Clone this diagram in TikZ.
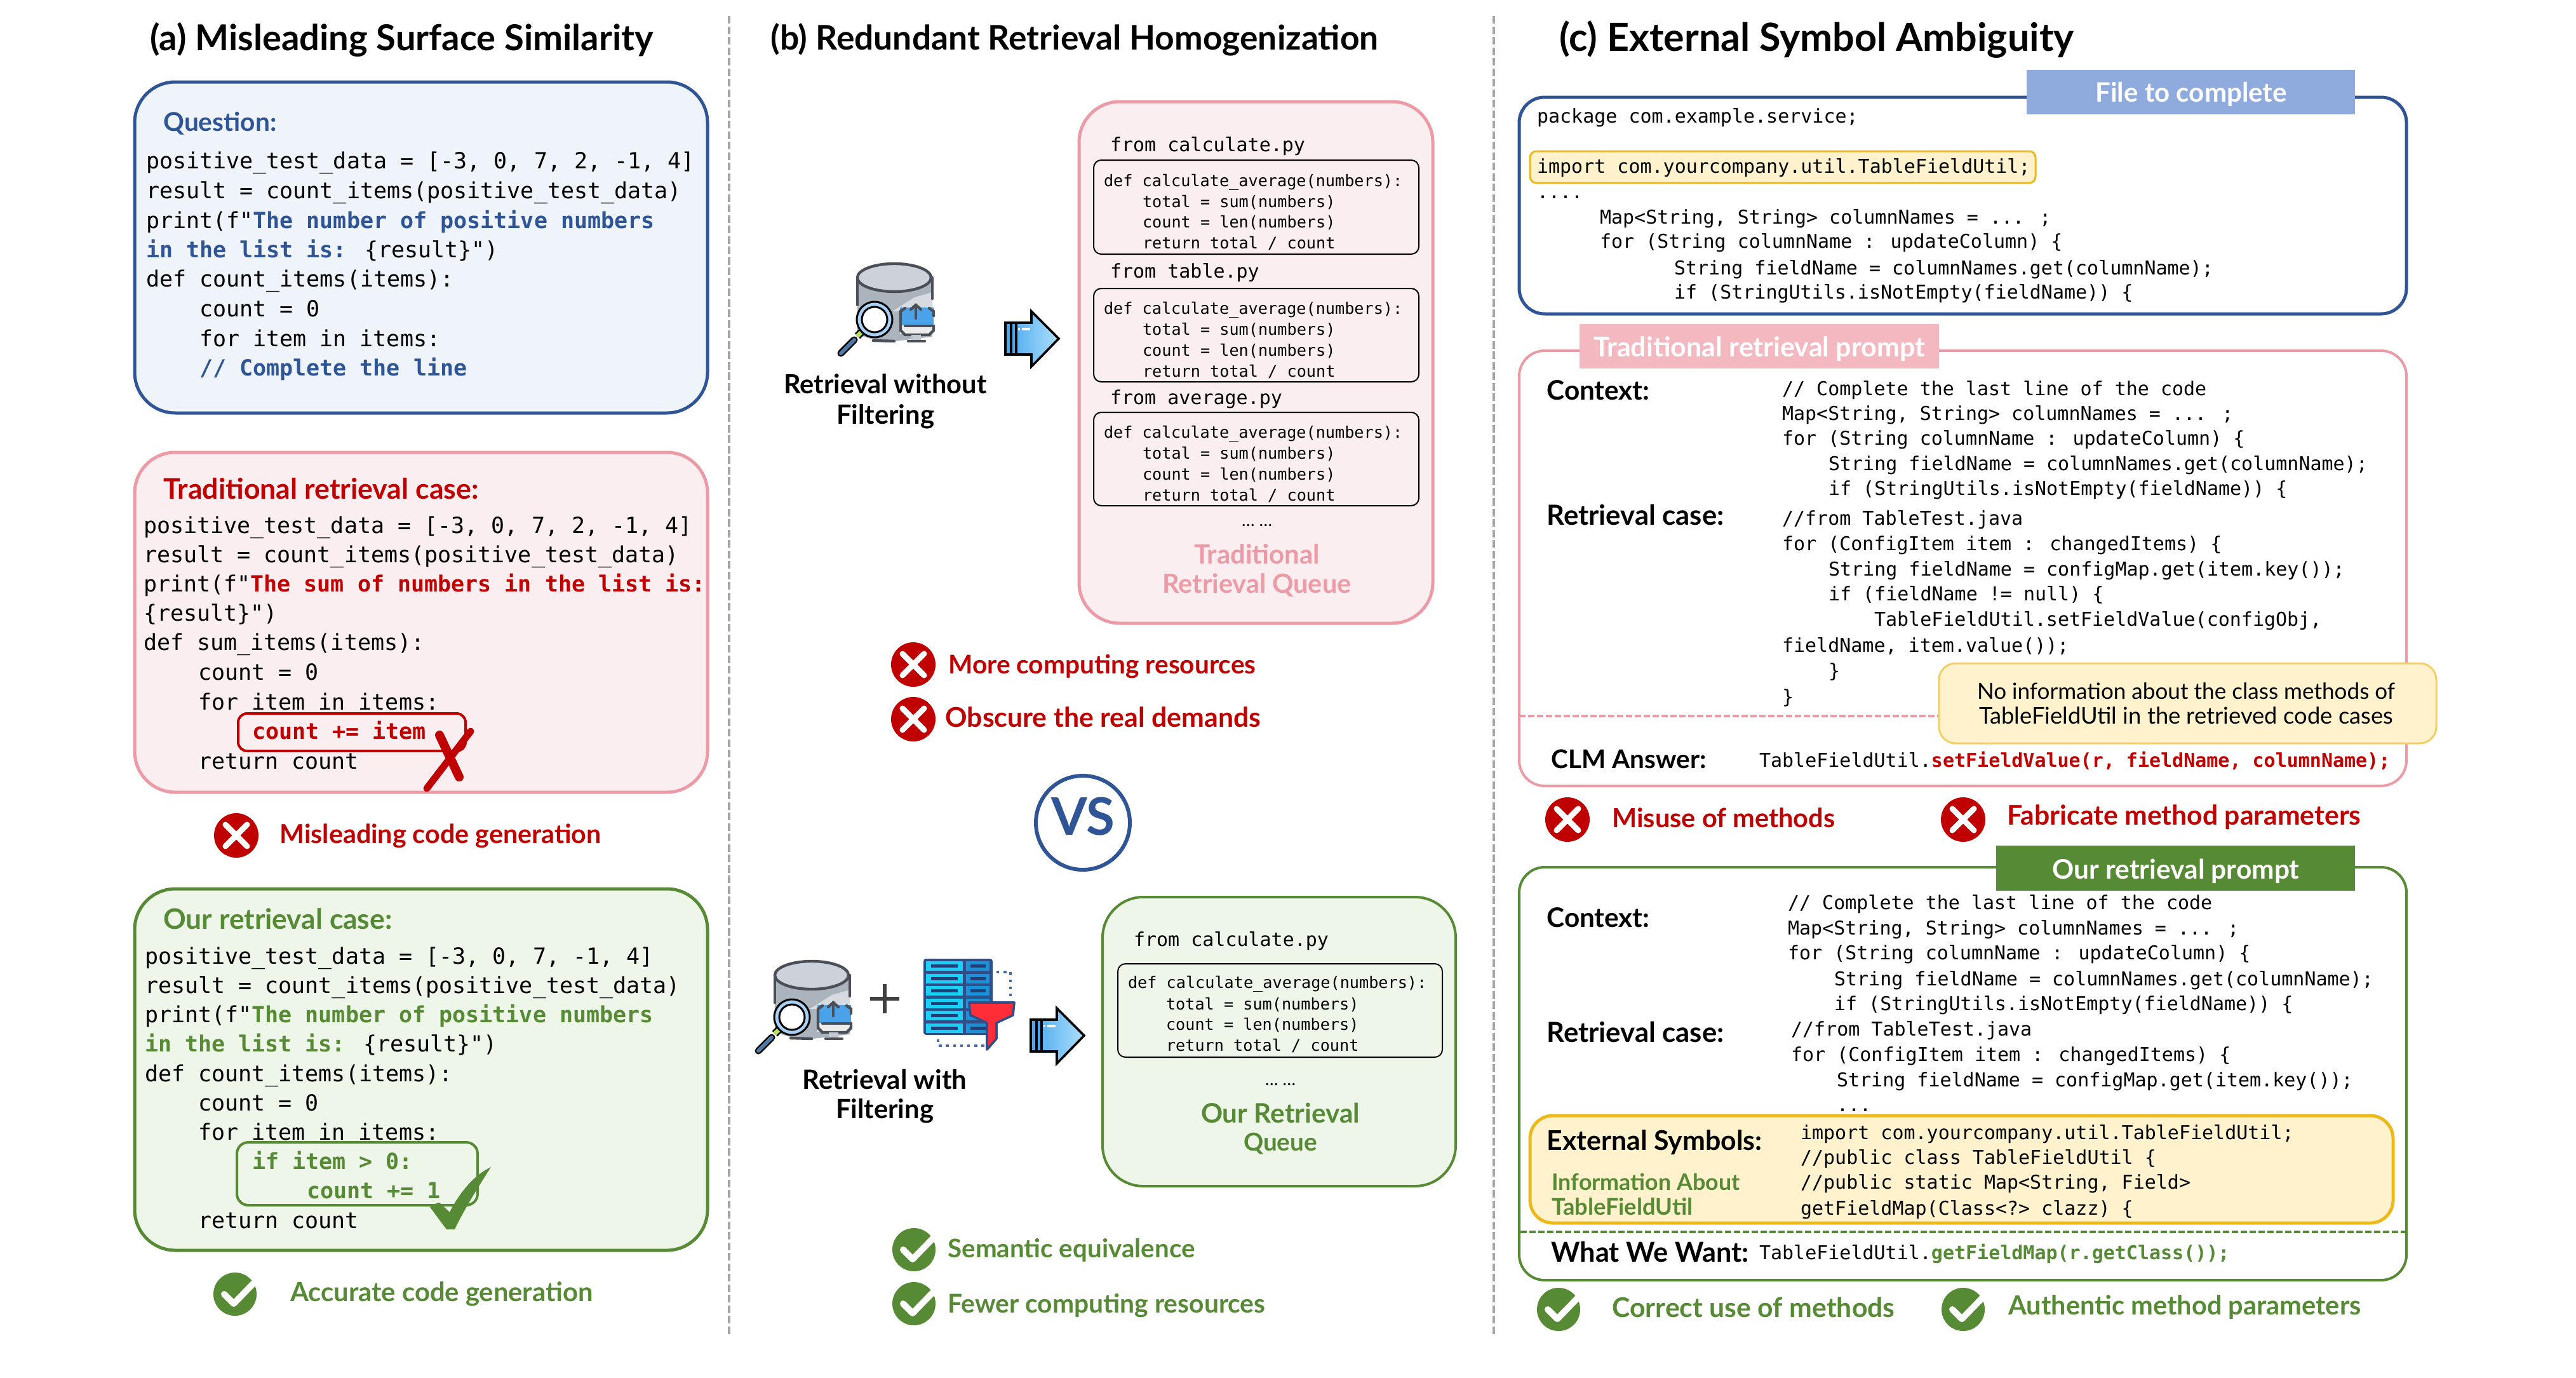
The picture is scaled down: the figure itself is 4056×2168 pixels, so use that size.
\documentclass[tikz,border=0pt]{standalone}
\usepackage{fontspec}
\usepackage{graphicx}
\setmainfont{Lato}
\newfontfamily\code{DejaVu Sans Mono}
\newlength\pxu \setlength\pxu{0.5pt}
\definecolor{cblue}{HTML}{2F5597}
\definecolor{cred}{HTML}{C00000}
\definecolor{cgreen}{HTML}{568A34}
\definecolor{cpink}{HTML}{EB9AA6}
\definecolor{fblue}{HTML}{EFF4FB}
\definecolor{fpink}{HTML}{FBEEF0}
\definecolor{fgreen}{HTML}{EEF6E9}
\definecolor{fyellow}{HTML}{FFF2CC}
\definecolor{syellow}{HTML}{EDB91A}
\definecolor{dbline}{HTML}{4B4F58}
\definecolor{greyd}{HTML}{A6A6A6}
\definecolor{dbbody}{HTML}{ABB3BC}
\definecolor{dbband}{HTML}{D7DBE0}
\definecolor{dbtop}{HTML}{CDD2DA}
\definecolor{scrblue}{HTML}{4AA3E8}
\definecolor{scrwhite}{HTML}{ECECEC}
\definecolor{standc}{HTML}{C3C9D1}
\definecolor{handle}{HTML}{4F7AA8}
\definecolor{lime}{HTML}{B5E05A}
\definecolor{lens}{HTML}{A8D0F5}
\definecolor{arrowa}{HTML}{45A6EE}
\definecolor{arrowb}{HTML}{AEDFFC}
\definecolor{arrowc}{HTML}{4AA8F0}
\definecolor{plusc}{HTML}{404040}
\definecolor{tabnavy}{HTML}{2E4F8A}
\definecolor{cellcyan}{HTML}{1BD0F5}
\definecolor{cellblue}{HTML}{1A92D8}
\definecolor{cellbar}{HTML}{20407A}
\definecolor{dotc}{HTML}{4A6AA5}
\definecolor{funnel}{HTML}{FF2D37}
\definecolor{tabblue}{HTML}{8FAADC}
\definecolor{tabpink}{HTML}{F4B8C1}
\definecolor{notee}{HTML}{F2CF66}
\tikzset{
  bigA/.style={font=\code\fontsize{17.5}{20}\selectfont},
  bigB/.style={font=\code\fontsize{15}{18}\selectfont},
  smallB/.style={font=\code\fontsize{12.6}{15}\selectfont},
  codeline/.style={anchor=base west,inner sep=0pt,outer sep=0pt},
  bluebox/.style={draw=cblue,fill=fblue,line width=2.5pt,rounded corners=32pt},
  pinkbox/.style={draw=cpink,fill=fpink,line width=2.5pt,rounded corners=32pt},
  greenbox/.style={draw=cgreen,fill=fgreen,line width=2.5pt,rounded corners=32pt},
  cblueframe/.style={draw=cblue,fill=white,line width=2.5pt,rounded corners=20pt},
  cpinkframe/.style={draw=cpink,fill=white,line width=2pt,rounded corners=20pt},
  cgreenframe/.style={draw=cgreen,fill=white,line width=2pt,rounded corners=20pt},
  innerbox/.style={draw=black,line width=1pt,rounded corners=6pt},
  sep/.style={draw=greyd,line width=2pt,dash pattern=on 6pt off 2.25pt},
  dbs/.style={draw=dbline,line width=2.2pt,line cap=round},
  fatarrow/.style={draw=black,line width=1.8pt,line join=miter},
}
\usetikzlibrary{calc}
\newcommand\cl[3]{\node[codeline] at (#1,#2) {#3};}
\newcommand\lbl[5]{\node[anchor=west,inner sep=0pt,text=#1] at (#3,#4) {\resizebox{#2\pxu}{!}{\bfseries\strut #5}};}
\newcommand\clbl[5]{\node[anchor=center,inner sep=0pt,text=#1] at (#3,#4) {\resizebox{#2\pxu}{!}{\bfseries\strut #5}};}
\newcommand\crossicon[2]{%
  \fill[cred] (#1,#2) circle[radius=35];
  \draw[white,line width=4.5pt,line cap=round] ($(#1,#2)+(-17,-17)$) -- ($(#1,#2)+(17,17)$);
  \draw[white,line width=4.5pt,line cap=round] ($(#1,#2)+(-17,17)$) -- ($(#1,#2)+(17,-17)$);}
\newcommand\checkicon[2]{%
  \fill[cgreen] (#1,#2) circle[radius=34];
  \draw[white,line width=5pt,line cap=round,line join=round] ($(#1,#2)+(-17,0)$) -- ($(#1,#2)+(-2,15)$) -- ($(#1,#2)+(31,-19)$);}
\newcommand\dbicon[2]{%
\begin{scope}[shift={(#1,#2)}]
  \fill[dbbody] (1350,437) -- (1350,525) .. controls (1370,537) and (1400,537) .. (1410,537) -- (1468,530) -- (1468,437) -- cycle;
  \fill[dbband] (1440,468) -- (1468,460) -- (1468,490) -- (1405,490) -- cycle;
  \draw[dbs] (1350,437) -- (1350,480);
  \draw[dbs] (1468,437) -- (1468,470);
  \draw[dbs,fill=dbtop] (1408,437) ellipse [x radius=58,y radius=22];
  \draw[dbs] (1375,536) -- (1408,537);
  \fill[scrblue] (1417,484) rectangle (1470,512);
  \fill[scrwhite] (1417,512) rectangle (1470,526);
  \draw[dbs] (1418,512) -- (1418,497) -- (1418,490) -- (1425,485);
  \draw[dbs] (1463,485) -- (1470,490) -- (1470,497);
  \draw[dbs] (1425,513) -- (1470,513);
  \draw[dbs] (1418,512) -- (1418,520) -- (1425,527) -- (1463,527) -- (1470,520) -- (1470,513);
  \draw[dbs] (1442,501) -- (1442,480);
  \draw[dbs] (1434,487) -- (1442,480) -- (1450,487);
  \fill[standc] (1435,527) rectangle (1450,535);
  \draw[dbs] (1430,537) -- (1456,537);
  \draw[black,line width=5.5pt,line cap=round] (1345,535) -- (1324,556);
  \draw[handle,line width=3pt,line cap=round] (1345,535) -- (1324,556);
  \draw[black,line width=6pt] (1358,521) -- (1350,529);
  \draw[lime,line width=3.5pt] (1358,521) -- (1350,529);
  \draw[black,fill=lens,line width=1.5pt] (1377,503) circle[radius=28];
  \draw[black,fill=white,line width=1.5pt] (1377,503) circle[radius=20];
\end{scope}}
\newcommand\arrowicon[2]{%
\begin{scope}[shift={(#1,#2)}]
  \shade[left color=arrowa,right color=arrowb] (1583,508) -- (1624,508) -- (1624,490) -- (1667,533) -- (1624,577) -- (1624,558) -- (1583,558) -- cycle;
  \fill[arrowc] (1583,508) rectangle (1600,558);
  \fill[white] (1603,516) rectangle (1606,520);
  \fill[white] (1609,516) rectangle (1622,520);
  \draw[black,line width=1.6pt] (1592,508) -- (1592,558);
  \draw[black,line width=1.6pt] (1600,508) -- (1600,558);
  \draw[fatarrow] (1583,508) -- (1624,508) -- (1624,490) -- (1667,533) -- (1624,577) -- (1624,558) -- (1583,558) -- cycle;
\end{scope}}
\begin{document}
\begin{tikzpicture}[x=0.5pt,y=-0.5pt]
\useasboundingbox (0,0) rectangle (4056,2168);
% separators
\draw[sep] (1148,25) -- (1148,2100);
\draw[sep] (2352,25) -- (2352,2100);
% titles
\lbl{black}{792}{236}{66}{(a) Misleading Surface Similarity}
\lbl{black}{957}{1213}{66}{(b) Redundant Retrieval Homogenization}
\lbl{black}{810}{2455}{66}{(c) External Symbol Ambiguity}
%%% PANEL A
\draw[bluebox] (212,129) rectangle (1114,650);
\lbl{cblue}{178}{257}{197}{Question:}
\begin{scope}[every node/.append style={bigA}]
\cl{230}{265}{positive\_test\_data = [-3, 0, 7, 2, -1, 4]}
\cl{230}{312}{result = count\_items(positive\_test\_data)}
\cl{230}{359}{print(f"\textcolor{cblue}{\bfseries The number of positive numbers}}
\cl{230}{405}{\textcolor{cblue}{\bfseries in the list is:} \{result\}")}
\cl{230}{451}{def count\_items(items):}
\cl{314}{498}{count = 0}
\cl{314}{545}{for item in items:}
\cl{314}{591}{\textcolor{cblue}{\bfseries // Complete the line}}
\end{scope}
\draw[pinkbox] (212,712) rectangle (1114,1247);
\lbl{cred}{496}{257}{775}{Traditional retrieval case:}
\begin{scope}[every node/.append style={bigA}]
\cl{226}{839}{positive\_test\_data = [-3, 0, 7, 2, -1, 4]}
\cl{226}{885}{result = count\_items(positive\_test\_data)}
\cl{226}{931}{print(f"\textcolor{cred}{\bfseries The sum of numbers in the list is:}}
\cl{226}{977}{\{result\}")}
\cl{226}{1023}{def sum\_items(items):}
\cl{312}{1070}{count = 0}
\cl{312}{1117}{for item in items:}
\cl{397}{1163}{\textcolor{cred}{\bfseries count += item}}
\cl{312}{1210}{return count}
\end{scope}
\draw[cred,line width=2pt,rounded corners=7pt] (375,1123) rectangle (733,1182);
\draw[cred,line width=7pt,line cap=round] (692,1157) -- (723,1223);
\draw[cred,line width=5.5pt,line cap=round] (741,1151) -- (672,1241);
\crossicon{372}{1315}
\lbl{cred}{506}{440}{1318}{Misleading code generation}
\draw[greenbox] (212,1399) rectangle (1114,1968);
\lbl{cgreen}{360}{257}{1452}{Our retrieval case:}
\begin{scope}[every node/.append style={bigA}]
\cl{228}{1517}{positive\_test\_data = [-3, 0, 7, -1, 4]}
\cl{228}{1563}{result = count\_items(positive\_test\_data)}
\cl{228}{1609}{print(f"\textcolor{cgreen}{\bfseries The number of positive numbers}}
\cl{228}{1655}{\textcolor{cgreen}{\bfseries in the list is:} \{result\}")}
\cl{228}{1702}{def count\_items(items):}
\cl{312}{1748}{count = 0}
\cl{312}{1794}{for item in items:}
\cl{397}{1840}{\textcolor{cgreen}{\bfseries if item > 0:}}
\cl{483}{1886}{\textcolor{cgreen}{\bfseries count += 1}}
\cl{312}{1933}{return count}
\end{scope}
\draw[cgreen,line width=2pt,rounded corners=9pt] (373,1798) rectangle (752,1897);
\fill[cgreen] (677,1900) .. controls (683,1896) and (688,1893) .. (692,1893) -- (708,1908) .. controls (722,1880) and (745,1850) .. (773,1837) .. controls (755,1865) and (730,1905) .. (716,1935) -- (703,1935) -- cycle;
\checkicon{370}{2037}
\lbl{cgreen}{476}{457}{2038}{Accurate code generation}
%%% PANEL B
\dbicon{0}{0}
\arrowicon{0}{0}
\clbl{black}{319}{1394}{610}{Retrieval without}
\clbl{black}{154}{1394}{657}{Filtering}
\draw[pinkbox] (1699,160) rectangle (2256,981);
\begin{scope}[every node/.append style={bigB}]
\cl{1748}{238}{from calculate.py}
\cl{1748}{437}{from table.py}
\cl{1748}{636}{from average.py}
\end{scope}
\draw[innerbox] (1722,252) rectangle (2234,400);
\draw[innerbox] (1722,454) rectangle (2234,601);
\draw[innerbox] (1722,649) rectangle (2234,796);
\begin{scope}[every node/.append style={smallB}]
\cl{1738}{293}{def calculate\_average(numbers):}
\cl{1799}{326}{total = sum(numbers)}
\cl{1799}{358}{count = len(numbers)}
\cl{1799}{391}{return total / count}
\cl{1738}{494}{def calculate\_average(numbers):}
\cl{1799}{527}{total = sum(numbers)}
\cl{1799}{560}{count = len(numbers)}
\cl{1799}{593}{return total / count}
\cl{1738}{689}{def calculate\_average(numbers):}
\cl{1799}{722}{total = sum(numbers)}
\cl{1799}{755}{count = len(numbers)}
\cl{1799}{788}{return total / count}
\end{scope}
\clbl{black}{48}{1979}{822}{\mdseries … …}
\clbl{cpink}{198}{1979}{877}{Traditional}
\clbl{cpink}{297}{1979}{924}{Retrieval Queue}
\crossicon{1438}{1046}
\lbl{cred}{484}{1493}{1051}{More computing resources}
\crossicon{1438}{1132}
\lbl{cred}{497}{1488}{1134}{Obscure the real demands}
% VS
\draw[cblue,line width=3pt,fill=white] (1705,1295) circle[radius=74];
\clbl{cblue}{100}{1705}{1295}{VS}
% lower
\dbicon{-130}{1098}
\arrowicon{40}{1097}
\draw[plusc,line width=3.2pt] (1370,1572) -- (1416,1572);
\draw[plusc,line width=3.2pt] (1393,1549) -- (1393,1595);
% filter table icon
\fill[tabnavy,rounded corners=2pt] (1454,1509) rectangle (1563,1629);
\foreach \r in {0,1,2,3,4,5}{
  \fill[cellcyan] (1458,1513+\r*19.5) rectangle (1516,1528+\r*19.5);
  \fill[cellblue] (1521,1513+\r*19.5) rectangle (1558,1528+\r*19.5);
  \fill[cellbar] (1466,1518+\r*19.5) rectangle (1508,1523+\r*19.5);
  \fill[cellbar] (1528,1518+\r*19.5) rectangle (1552,1523+\r*19.5);
}
\draw[dotc,line width=2.2pt,dash pattern=on 2.2pt off 3.4pt] (1569,1530) -- (1591,1530) -- (1591,1572);
\draw[dotc,line width=2.2pt,dash pattern=on 2.2pt off 3.4pt] (1477,1636) -- (1477,1646) -- (1550,1646);
\draw[tabnavy,fill=funnel,line width=1.8pt,line join=round] (1526,1578) -- (1597,1578) -- (1595,1598) -- (1569,1610) -- (1569,1635) -- (1554,1652) -- (1554,1610) -- (1528,1598) -- cycle;
\clbl{black}{259}{1393}{1704}{Retrieval with}
\clbl{black}{154}{1393}{1750}{Filtering}
\draw[greenbox,line width=2pt] (1736,1412) rectangle (2292,1867);
\begin{scope}[every node/.append style={bigB}]
\cl{1785}{1489}{from calculate.py}
\end{scope}
\draw[innerbox] (1760,1517) rectangle (2271,1664);
\begin{scope}[every node/.append style={smallB}]
\cl{1776}{1555}{def calculate\_average(numbers):}
\cl{1836}{1589}{total = sum(numbers)}
\cl{1836}{1621}{count = len(numbers)}
\cl{1836}{1654}{return total / count}
\end{scope}
\clbl{black}{48}{2016}{1702}{\mdseries … …}
\clbl{cgreen}{250}{2016}{1757}{Our Retrieval}
\clbl{cgreen}{116}{2016}{1802}{Queue}
\checkicon{1439}{1967}
\lbl{cgreen}{389}{1492}{1970}{Semantic equivalence}
\checkicon{1439}{2052}
\lbl{cgreen}{500}{1492}{2057}{Fewer computing resources}
%%% PANEL C
\draw[cblueframe] (2392,153) rectangle (3789,494);
\fill[tabblue] (3191,110) rectangle (3708,180);
\clbl{white}{301}{3450}{150}{File to complete}
\begin{scope}[every node/.append style={bigB}]
\draw[syellow,fill=fyellow,line width=1.5pt,rounded corners=5pt] (2409,238) rectangle (3205,288);
\cl{2420}{193}{package com.example.service;}
\cl{2420}{272}{import com.yourcompany.util.TableFieldUtil;}
\cl{2420}{312}{....}
\cl{2519}{352}{Map<String, String> columnNames = ... ;}
\cl{2519}{390}{for (String columnName : updateColumn) \{}
\cl{2636}{432}{String fieldName = columnNames.get(columnName);}
\cl{2636}{470}{if (StringUtils.isNotEmpty(fieldName)) \{}
\end{scope}
% traditional prompt
\draw[cpinkframe] (2392,552) rectangle (3789,1237);
\fill[tabpink] (2487,510) rectangle (3053,580);
\clbl{white}{522}{2770}{551}{Traditional retrieval prompt}
\lbl{black}{162}{2435}{619}{Context:}
\lbl{black}{279}{2435}{816}{Retrieval case:}
\begin{scope}[every node/.append style={bigB}]
\cl{2806}{622}{// Complete the last line of the code}
\cl{2806}{661}{Map<String, String> columnNames = ... ;}
\cl{2806}{700}{for (String columnName : updateColumn) \{}
\cl{2879}{740}{String fieldName = columnNames.get(columnName);}
\cl{2879}{779}{if (StringUtils.isNotEmpty(fieldName)) \{}
\cl{2806}{826}{//from TableTest.java}
\cl{2806}{866}{for (ConfigItem item : changedItems) \{}
\cl{2879}{906}{String fieldName = configMap.get(item.key());}
\cl{2879}{945}{if (fieldName != null) \{}
\cl{2951}{985}{TableFieldUtil.setFieldValue(configObj,}
\cl{2806}{1026}{fieldName, item.value());}
\cl{2879}{1066}{\}}
\cl{2806}{1107}{\}}
\cl{2770}{1207}{TableFieldUtil.\textcolor{cred}{\bfseries setFieldValue(r, fieldName, columnName);}}
\end{scope}
\draw[cpink,line width=2pt,dash pattern=on 5pt off 2pt] (2392,1127) -- (3055,1127);
\draw[notee,fill=fyellow,line width=1.5pt,rounded corners=13pt] (3053,1044) rectangle (3836,1170);
\clbl{black}{658}{3442}{1092}{\mdseries No information about the class methods of}
\clbl{black}{652}{3442}{1131}{\mdseries TableFieldUtil in the retrieved code cases}
\lbl{black}{244}{2442}{1200}{CLM Answer:}
\crossicon{2468}{1290}
\lbl{cred}{351}{2538}{1293}{Misuse of methods}
\crossicon{3091}{1290}
\lbl{cred}{557}{3160}{1288}{Fabricate method parameters}
% our prompt
\draw[cgreenframe] (2392,1365) rectangle (3789,2015);
\fill[cgreen] (3143,1331) rectangle (3708,1402);
\clbl{white}{389}{3426}{1373}{Our retrieval prompt}
\lbl{black}{162}{2435}{1449}{Context:}
\lbl{black}{279}{2435}{1630}{Retrieval case:}
\draw[syellow,fill=fyellow,line width=2.5pt,rounded corners=18pt] (2409,1756) rectangle (3768,1925);
\begin{scope}[every node/.append style={bigB}]
\cl{2815}{1431}{// Complete the last line of the code}
\cl{2815}{1471}{Map<String, String> columnNames = ... ;}
\cl{2815}{1510}{for (String columnName : updateColumn) \{}
\cl{2888}{1551}{String fieldName = columnNames.get(columnName);}
\cl{2888}{1590}{if (StringUtils.isNotEmpty(fieldName)) \{}
\cl{2820}{1630}{//from TableTest.java}
\cl{2820}{1670}{for (ConfigItem item : changedItems) \{}
\cl{2892}{1710}{String fieldName = configMap.get(item.key());}
\cl{2892}{1749}{...}
\cl{2835}{1793}{import com.yourcompany.util.TableFieldUtil;}
\cl{2835}{1832}{//public class TableFieldUtil \{}
\cl{2835}{1871}{//public static Map<String, Field>}
\cl{2835}{1912}{getFieldMap(Class<?> clazz) \{}
\cl{2770}{1982}{TableFieldUtil.\textcolor{cgreen}{\bfseries getFieldMap(r.getClass());}}
\end{scope}
\lbl{black}{339}{2435}{1800}{External Symbols:}
\lbl{cgreen}{296}{2443}{1865}{Information About}
\lbl{cgreen}{222}{2443}{1904}{TableFieldUtil}
\draw[cgreen,line width=2pt,dash pattern=on 5pt off 2pt] (2394,1939) -- (3789,1939);
\lbl{black}{311}{2442}{1976}{What We Want:}
\checkicon{2454}{2061}
\lbl{cgreen}{445}{2538}{2063}{Correct use of methods}
\checkicon{3091}{2061}
\lbl{cgreen}{555}{3162}{2059}{Authentic method parameters}
\end{tikzpicture}
\end{document}
